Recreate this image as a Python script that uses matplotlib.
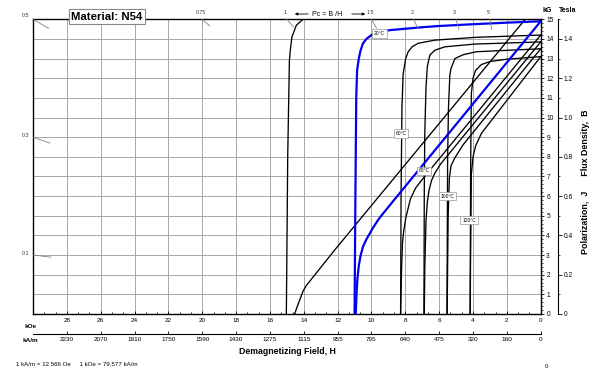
import numpy as np
import matplotlib.pyplot as plt
from matplotlib.ticker import MultipleLocator, AutoMinorLocator

plt.rcParams['font.family'] = ['Liberation Sans', 'DejaVu Sans']

# H in kOe, J and B in kG
# low temperature curve (no label on the chart)
h_jlow = [14.05, 14.44, 14.70, 14.80, 14.85, 14.95, 15.03]
j_low = [15.0, 14.7, 14.1, 13.4, 12.9, 8.0, 0.0]
h_blow = [0.92, 12.17, 13.85, 14.05, 14.24, 14.40, 14.54]
b_low = [15.0, 3.26, 1.45, 1.15, 0.71, 0.35, 0.0]

# 20°C
h_j20 = [0, 2, 4, 6, 7.1, 8.9, 9.6, 10.0, 10.3, 10.5, 10.65, 10.75, 10.85, 10.9, 10.95, 11.0]
j_20 = [14.9, 14.83, 14.75, 14.66, 14.59, 14.45, 14.35, 14.2, 14.0, 13.78, 13.4, 13.0, 12.4, 11.0, 6.0, 0.0]
h_b20 = [0, 8.8, 9.3, 9.6, 9.9, 10.1, 10.3, 10.5, 10.65, 10.75, 10.83, 10.88, 10.93]
b_20 = [14.9, 5.66, 5.13, 4.8, 4.4, 4.1, 3.8, 3.43, 2.95, 2.45, 1.8, 1.1, 0.0]

# 60°C
h_j60 = [0, 3.9, 6.25, 7.24, 7.6, 7.83, 7.98, 8.13, 8.2, 8.25, 8.28]
j_60 = [14.2, 14.08, 13.94, 13.78, 13.6, 13.35, 13.0, 12.2, 10.5, 6.3, 0.0]
h_b60 = [0, 7.0, 7.4, 7.7, 7.97, 8.1, 8.17, 8.22, 8.25, 8.28]
b_60 = [14.2, 6.85, 6.4, 5.85, 4.9, 4.2, 3.6, 2.4, 1.2, 0.0]

# 80°C
h_j80 = [0, 3.9, 5.66, 6.25, 6.55, 6.7, 6.78, 6.85, 6.88, 6.9]
j_80 = [13.85, 13.74, 13.6, 13.43, 13.18, 12.6, 11.5, 9.2, 6.3, 0.0]
h_b80 = [0, 5.9, 6.25, 6.45, 6.6, 6.7, 6.78, 6.85, 6.88]
b_80 = [13.85, 7.65, 7.18, 6.8, 6.3, 5.7, 4.72, 2.35, 0.0]

# 100°C
h_j100 = [0, 3.79, 4.58, 5.07, 5.3, 5.37, 5.45, 5.5, 5.54]
j_100 = [13.5, 13.35, 13.2, 13.0, 12.5, 12.16, 10.5, 8.0, 0.0]
h_b100 = [0, 4.58, 5.07, 5.3, 5.4, 5.47, 5.5, 5.53]
b_100 = [13.5, 8.62, 7.95, 7.55, 6.9, 5.0, 2.5, 0.0]

# 120°C
h_j120 = [0, 2.0, 3.0, 3.5, 3.85, 4.0, 4.1, 4.14, 4.17]
j_120 = [13.1, 12.97, 12.85, 12.7, 12.4, 12.0, 11.2, 7.5, 0.0]
h_b120 = [0, 3.5, 3.85, 4.0, 4.1, 4.14, 4.17]
b_120 = [13.1, 9.2, 8.55, 8.0, 7.1, 3.4, 0.0]

temp_labels = ['20°C', '60°C', '80°C', '100°C', '120°C']

# permeance coefficient marks
pc_values = [0.5, 0.75, 1, 1.5, 2, 3, 5, 0.3, 0.1]
pc_labels = ['0.5', '0.75', '1', '1.5', '2', '3', '5', '0.3', '0.1']

koe_ticks = [28, 26, 24, 22, 20, 18, 16, 14, 12, 10, 8, 6, 4, 2, 0]
kam_labels = ['2230', '2070', '1910', '1750', '1590', '1430', '1275', '1115',
              '955', '795', '640', '475', '320', '160', '0']

fig = plt.figure(figsize=(6, 3.75), dpi=100)
ax = fig.add_axes([0.055, 0.1627, 0.8462, 0.7858])

ax.set_xlim(30, 0)
ax.set_ylim(0, 15)

ax.xaxis.set_major_locator(MultipleLocator(2))
ax.yaxis.set_major_locator(MultipleLocator(1))
ax.grid(True, color='#a8a8a8', lw=0.7, zorder=0)
ax.set_axisbelow(True)

for s in ax.spines.values():
    s.set_color('black')
    s.set_linewidth(1.0)

# curves
black = [(h_jlow, j_low), (h_blow, b_low), (h_j60, j_60), (h_b60, b_60),
         (h_j80, j_80), (h_b80, b_80), (h_j100, j_100), (h_b100, b_100),
         (h_j120, j_120), (h_b120, b_120)]
for hh, vv in black:
    ax.plot(hh, vv, color='black', lw=0.95, zorder=3)
ax.plot(h_j20, j_20, color='#0000ee', lw=1.6, zorder=4)
ax.plot(h_b20, b_20, color='#0000ee', lw=1.6, zorder=4)

# temperature labels sit on the J curves
lab_h = [9.54, 8.25, 6.89, 5.51, 4.23]
lab_b = [14.28, 9.18, 7.28, 6.0, 4.78]
for t, hh, bb in zip(temp_labels, lab_h, lab_b):
    ax.text(hh, bb, t, fontsize=3.6, ha='center', va='center', zorder=6,
            bbox=dict(boxstyle='square,pad=0.35', fc='white', ec='#999999', lw=0.5))

# permeance ticks along B = Pc * H near the frame
px_per_h = 16.9
px_per_b = 19.65
for pc, lab in zip(pc_values, pc_labels):
    if pc * 30 >= 15:
        h0, b0 = 15 / pc, 15.0
    else:
        h0, b0 = 30.0, pc * 30
    seg = 18 if h0 >= 29.9 else 10
    dh = seg / np.hypot(px_per_h, px_per_b * pc)
    ax.plot([h0, h0 - dh], [b0, pc * (h0 - dh)], color='#808080', lw=0.6,
            zorder=5, clip_on=False)
    if b0 >= 15 and h0 < 29.9:
        ax.annotate(lab, (h0, b0), xytext=(-1, 3), textcoords='offset points',
                    ha='center', va='bottom', fontsize=3.8, color='#333333')
    else:
        ax.annotate(lab, (h0, b0), xytext=(-3, 1), textcoords='offset points',
                    ha='right', va='bottom' if b0 >= 15 else 'center',
                    fontsize=3.8, color='#333333')

# bottom kOe axis
ax.set_xticks(koe_ticks)
ax.set_xticklabels([str(v) for v in koe_ticks])
ax.xaxis.set_minor_locator(AutoMinorLocator(3))
ax.tick_params(axis='x', which='major', direction='in', length=2, width=0.6,
               labelsize=4.6, pad=3, colors='black')
ax.tick_params(axis='x', which='minor', direction='in', length=1.2, width=0.6)

# kA/m axis
sec = ax.secondary_xaxis(-0.068)
sec.set_xticks(koe_ticks)
sec.set_xticklabels(kam_labels)
sec.spines['bottom'].set_linewidth(0.8)
sec.tick_params(axis='x', direction='in', length=2, width=0.6, labelsize=4.6, pad=2.5)

# right kG axis
ax.yaxis.tick_right()
ax.set_yticks(range(0, 16))
ax.yaxis.set_minor_locator(MultipleLocator(0.2))
ax.tick_params(axis='y', which='major', direction='out', length=2.5, width=0.6,
               labelsize=4.8, pad=1.5)
ax.tick_params(axis='y', which='minor', direction='out', length=1.2, width=0.5)

# Tesla axis
tes = ax.secondary_yaxis(1.035, functions=(lambda b: b / 10, lambda t: t * 10))
tes.set_yticks([0, 0.2, 0.4, 0.6, 0.8, 1.0, 1.2, 1.4])
tes.set_yticklabels(['0', '0.2', '0.4', '0.6', '0.8', '1.0', '1.2', '1.4'])
tes.yaxis.set_minor_locator(MultipleLocator(0.1))
tes.spines['right'].set_linewidth(0.8)
tes.tick_params(axis='y', which='major', direction='out', length=3, width=0.6,
                labelsize=4.8, pad=0.5)
tes.tick_params(axis='y', which='minor', direction='out', length=1.5, width=0.5)

# texts
fig.text(547 / 600, 1 - 11 / 375, 'kG', fontsize=5, fontweight='bold', ha='center', va='center')
fig.text(568 / 600, 1 - 11 / 375, 'Tesla', fontsize=5, fontweight='bold', ha='center', va='center')
fig.text(586 / 600, 1 - 182 / 375, 'Polarization,  J      Flux Density,  B', rotation=90,
         fontsize=6.4, fontweight='bold', ha='center', va='center')
fig.text(287 / 600, 1 - 352 / 375, 'Demagnetizing Field, H', fontsize=6.3,
         fontweight='bold', ha='center', va='center')
fig.text(30.5 / 600, 1 - 326 / 375, 'kOe', fontsize=4.6, fontweight='bold', ha='center', va='center')
fig.text(30.5 / 600, 1 - 341 / 375, 'kA/m', fontsize=4.6, fontweight='bold', ha='center', va='center')
fig.text(16 / 600, 1 - 364.5 / 375, '1 kA/m = 12.566 Oe     1 kOe = 79.577 kA/m',
         fontsize=4.4, ha='left', va='center')
fig.text(546 / 600, 1 - 367 / 375, '0', fontsize=4.4, ha='center', va='center')
fig.text(107 / 600, 1 - 16.7 / 375, 'Material: N54', fontsize=8.2, fontweight='bold',
         ha='center', va='center',
         bbox=dict(boxstyle='square,pad=0.2', fc='white', ec='#888888', lw=0.8))

fig.text(327 / 600, 1 - 14 / 375, 'Pc = B /H', fontsize=5, ha='center', va='center')
ax.annotate('', xy=(292, 361), xytext=(311, 361), xycoords='figure pixels',
            textcoords='figure pixels',
            arrowprops=dict(arrowstyle='-|>', lw=0.6, color='black', mutation_scale=4))
ax.annotate('', xy=(368, 361), xytext=(349, 361), xycoords='figure pixels',
            textcoords='figure pixels',
            arrowprops=dict(arrowstyle='-|>', lw=0.6, color='black', mutation_scale=4))

fig.savefig('out.png', dpi=100)
